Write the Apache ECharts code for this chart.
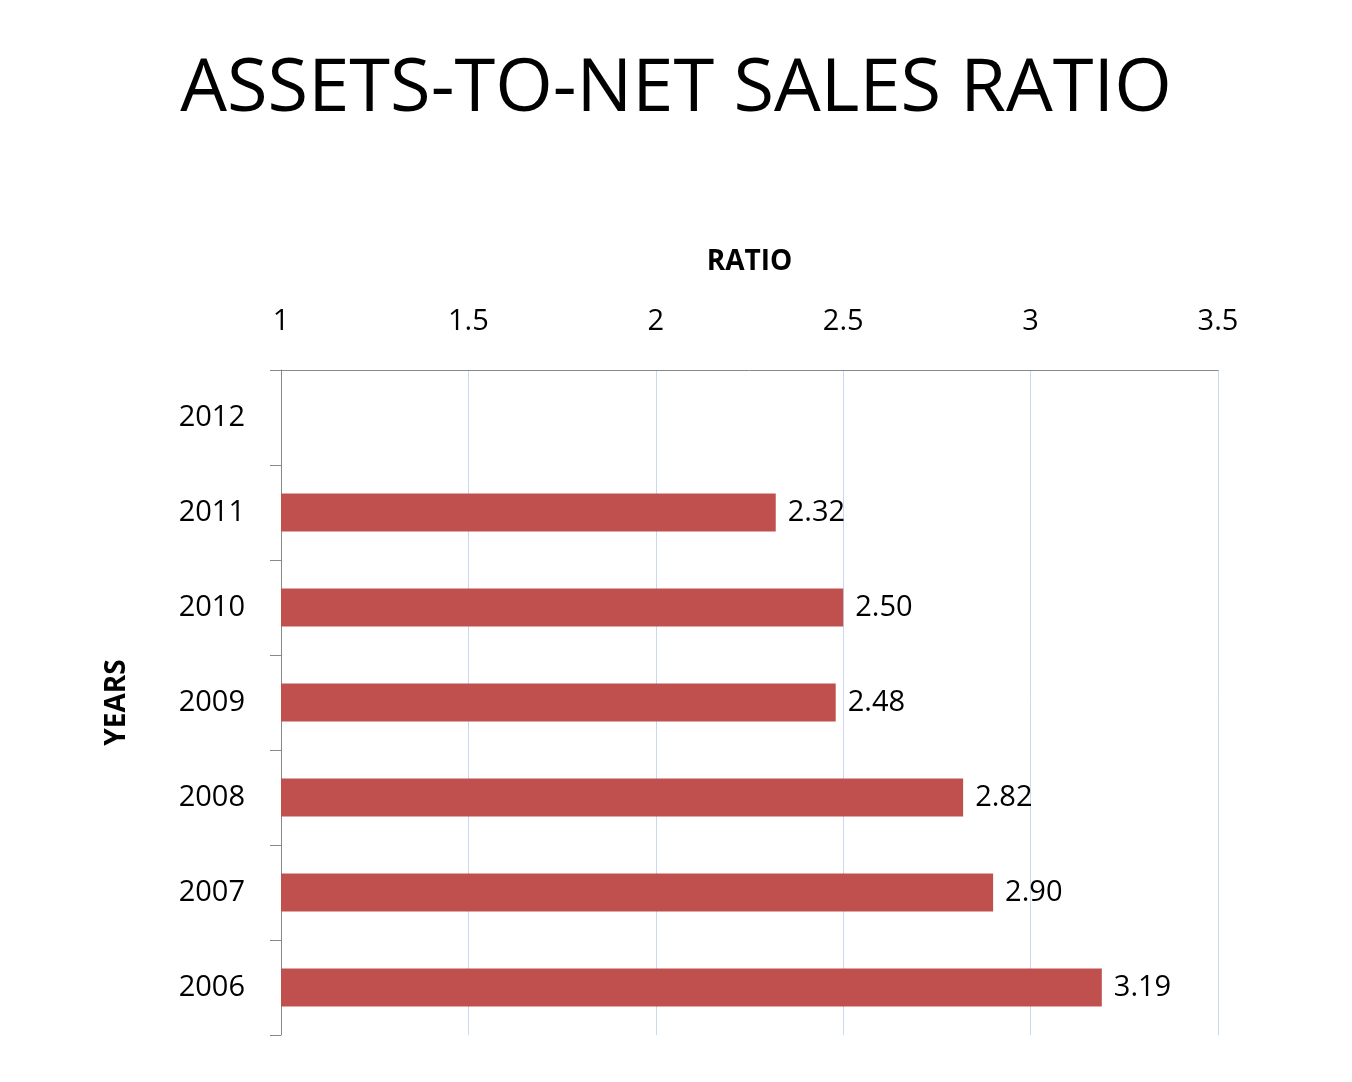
<!DOCTYPE html>
<html>
<head>
<meta charset="utf-8">
</head>
<body style="margin:0;background:#fff">
<div id="container" style="width:1352px;height:1082px"></div>
<script src="https://cdn.jsdelivr.net/npm/echarts@6/dist/echarts.min.js"></script>
<script>
var years = ['2006', '2007', '2008', '2009', '2010', '2011', '2012'];
var ratios = [3.19, 2.90, 2.82, 2.48, 2.50, 2.32, null];

var chart = echarts.init(document.getElementById('container'));
var font = '"Open Sans", "Noto Sans", sans-serif';
chart.setOption({
  animation: false,
  title: {
    text: 'ASSETS-TO-NET SALES RATIO',
    left: 'center',
    top: 48,
    textStyle: { fontFamily: font, fontSize: 74, fontWeight: 'normal', color: '#000' }
  },
  grid: { left: 281, right: 134, top: 370, bottom: 47 },
  xAxis: {
    type: 'value',
    position: 'top',
    min: 1, max: 3.5, interval: 0.5,
    name: 'RATIO',
    nameLocation: 'middle',
    nameGap: 94,
    nameTextStyle: { fontFamily: font, fontSize: 28, fontWeight: 'bold', color: '#000' },
    axisLine: { show: true, lineStyle: { color: '#888' } },
    axisTick: { show: false },
    axisLabel: { fontFamily: font, fontSize: 29, color: '#000', margin: 34 },
    splitLine: { show: true, lineStyle: { color: '#c6d9f1' } }
  },
  yAxis: {
    type: 'category',
    data: years,
    name: 'YEARS',
    nameLocation: 'middle',
    nameGap: 150,
    nameTextStyle: { fontFamily: font, fontSize: 28, fontWeight: 'bold', color: '#000' },
    axisLine: { show: true, lineStyle: { color: '#888' } },
    axisTick: { show: true, length: 11, lineStyle: { color: '#888' } },
    axisLabel: { fontFamily: font, fontSize: 29, color: '#000', margin: 36 }
  },
  series: [{
    type: 'bar',
    data: ratios,
    barWidth: 38,
    itemStyle: { color: '#c0504d' },
    label: {
      show: true,
      position: 'right',
      distance: 12,
      fontFamily: font, fontSize: 29, color: '#000',
      formatter: function (p) { return p.value == null ? '' : p.value.toFixed(2); }
    }
  }]
});
</script>
</body>
</html>
